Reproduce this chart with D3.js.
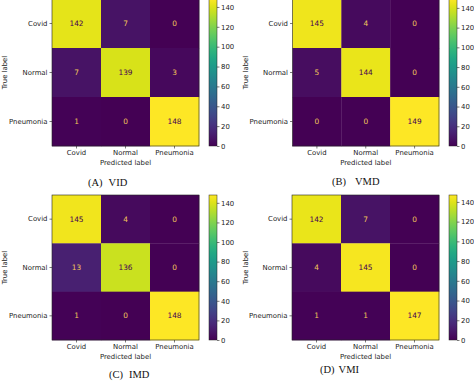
<!DOCTYPE html>
<meta charset="utf-8">
<script src="https://d3js.org/d3.v7.min.js"></script>
<style>
  body { margin: 0; background: #fff; }
  text { font-family: "DejaVu Sans", sans-serif; }
</style>
<div id="chart"></div>
<script>

// class names and confusion matrices (rows = true label, cols = predicted)
var classes = ["Covid", "Normal", "Pneumonia"];
var vid = [[142, 7, 0], [7, 139, 3], [1, 0, 148]];
var vmd = [[145, 4, 0], [5, 144, 0], [0, 0, 149]];
var imd = [[145, 4, 0], [13, 136, 0], [1, 0, 148]];
var vmi = [[142, 7, 0], [4, 145, 0], [1, 1, 147]];
var captions = [["(A)", "VID"], ["(B)", "VMD"], ["(C)", "IMD"], ["(D)", "VMI"]];
var cbTicks = [0, 20, 40, 60, 80, 100, 120, 140];

var svg = d3.select("#chart").append("svg")
  .attr("width", 474)
  .attr("height", 381);

svg.append("rect").attr("width", 474).attr("height", 381).attr("fill", "#fff");

var panels = [
  {m: vid, x0: 52, y0: -1, x1: 199, y1: 146, cap: captions[0], capX: 88, capY: 186, gap: 6, tl: 2},
  {m: vmd, x0: 292.5, y0: -1, x1: 439, y1: 146, cap: captions[1], capX: 332, capY: 185, gap: 9, tl: 243.5},
  {m: imd, x0: 52, y0: 195, x1: 199, y1: 340, cap: captions[2], capX: 109, capY: 378, gap: 6, tl: 2},
  {m: vmi, x0: 292, y0: 195, x1: 439, y1: 340, cap: captions[3], capX: 320, capY: 373, gap: 4, tl: 243.5}
];

var defs = svg.append("defs");
var grad = defs.append("linearGradient")
  .attr("id", "viridis")
  .attr("x1", "0").attr("y1", "1").attr("x2", "0").attr("y2", "0");
d3.range(0, 1.0001, 0.05).forEach(function(t) {
  grad.append("stop").attr("offset", t).attr("stop-color", d3.interpolateViridis(t));
});

panels.forEach(function(p) {
  var g = svg.append("g");
  var vmax = d3.max(p.m, function(r) { return d3.max(r); });
  var vmin = d3.min(p.m, function(r) { return d3.min(r); });
  var color = d3.scaleSequential(d3.interpolateViridis).domain([vmin, vmax]);

  var x = d3.scaleBand().domain(classes).range([p.x0, p.x1]);
  var y = d3.scaleBand().domain(classes).range([p.y0, p.y1]);

  var cells = [];
  p.m.forEach(function(row, i) {
    row.forEach(function(v, j) {
      cells.push({t: classes[i], p: classes[j], v: v});
    });
  });

  g.selectAll("rect.cell")
    .data(cells)
    .enter().append("rect")
      .attr("class", "cell")
      .attr("x", function(d) { return x(d.p); })
      .attr("y", function(d) { return y(d.t); })
      .attr("width", x.bandwidth() + 0.3)
      .attr("height", y.bandwidth() + 0.3)
      .attr("fill", function(d) { return color(d.v); });

  var thresh = (vmax + vmin) / 2;
  g.selectAll("text.val")
    .data(cells)
    .enter().append("text")
      .attr("class", "val")
      .attr("x", function(d) { return x(d.p) + x.bandwidth() / 2; })
      .attr("y", function(d) { return y(d.t) + y.bandwidth() / 2; })
      .attr("text-anchor", "middle")
      .attr("dominant-baseline", "central")
      .style("font-size", "7.4px")
      .attr("fill", function(d) { return d.v < thresh ? "#f3c65a" : "#440154"; })
      .text(function(d) { return d.v; });

  // spine
  g.append("rect")
    .attr("x", p.x0).attr("y", p.y0)
    .attr("width", p.x1 - p.x0).attr("height", p.y1 - p.y0)
    .attr("fill", "none").attr("stroke", "#222").attr("stroke-width", 0.6);

  // axes
  var xAxis = g.append("g")
    .attr("transform", "translate(0," + p.y1 + ")")
    .call(d3.axisBottom(x).tickSize(2.5).tickPadding(2));
  var yAxis = g.append("g")
    .attr("transform", "translate(" + p.x0 + ",0)")
    .call(d3.axisLeft(y).tickSize(2.5).tickPadding(2));
  [xAxis, yAxis].forEach(function(a) {
    a.select(".domain").remove();
    a.selectAll("text").style("font-size", "6.9px").attr("fill", "#222");
    a.selectAll("line").attr("stroke", "#222").attr("stroke-width", 0.6);
  });

  g.append("text")
    .attr("x", (p.x0 + p.x1) / 2)
    .attr("y", p.y1 + 19)
    .attr("text-anchor", "middle")
    .style("font-size", "6.9px")
    .attr("fill", "#222")
    .text("Predicted label");

  g.append("text")
    .attr("transform", "translate(" + (p.tl + 2.5) + "," + ((p.y0 + p.y1) / 2) + ") rotate(-90)")
    .attr("text-anchor", "middle")
    .attr("dominant-baseline", "central")
    .style("font-size", "6.9px")
    .attr("fill", "#222")
    .text("True label");

  // colorbar
  var cbx = p.x1 + 10;
  var cb = d3.scaleLinear().domain([vmin, vmax]).range([p.y1, p.y0]);
  g.append("rect")
    .attr("x", cbx).attr("y", p.y0)
    .attr("width", 8).attr("height", p.y1 - p.y0)
    .attr("fill", "url(#viridis)")
    .attr("stroke", "#222").attr("stroke-width", 0.5);
  var cbAxis = g.append("g")
    .attr("transform", "translate(" + (cbx + 8) + ",0)")
    .call(d3.axisRight(cb).tickValues(cbTicks).tickSize(2.5).tickPadding(1.5));
  cbAxis.select(".domain").remove();
  cbAxis.selectAll("text").style("font-size", "6.9px").attr("fill", "#222");
  cbAxis.selectAll("line").attr("stroke", "#222").attr("stroke-width", 0.6);

  // caption
  var cap = g.append("text")
    .attr("x", p.capX)
    .attr("y", p.capY)
    .style("font-family", "'Liberation Serif', serif")
    .style("font-size", "10.5px")
    .attr("fill", "#111");
  cap.append("tspan").text(p.cap[0]);
  cap.append("tspan").attr("dx", p.gap).text(p.cap[1]);
});

</script>
